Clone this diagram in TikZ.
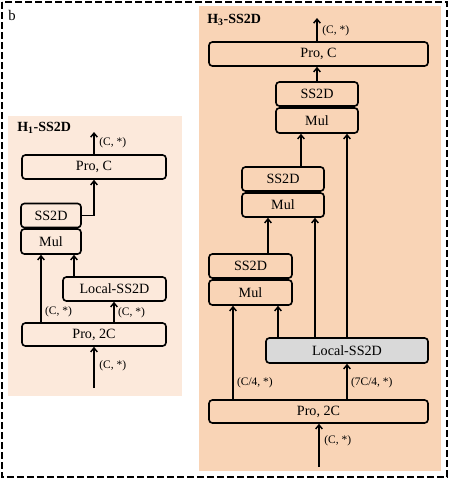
\documentclass[tikz,border=0pt]{standalone}
\usepackage{fontspec}
\setmainfont{Liberation Serif}
\usetikzlibrary{arrows.meta}
\newlength\pxu \setlength\pxu{0.75pt}
\definecolor{lightpeach}{HTML}{FCE9DB}
\definecolor{peach}{HTML}{F9D4B6}
\definecolor{boxgray}{HTML}{D9D9D9}
\tikzset{
    blk/.style={draw, line width=1.2pt, rounded corners=2.5pt, inner sep=0pt,
        font=\fontsize{10.6}{12}\selectfont},
    arr/.style={-{Straight Barb[length=3pt,width=5pt]}, line width=1.1pt},
    lbl/.style={font=\fontsize{8.6}{10}\selectfont, inner sep=1.5pt},
    ttl/.style={font=\fontsize{10.5}{12}\selectfont\bfseries, anchor=west, inner sep=0pt}
}

\begin{document}
\begin{tikzpicture}[x=0.75pt, y=-0.75pt]
        \useasboundingbox (0,0) rectangle (449,479);
        \draw[line width=1.4pt, dash pattern=on 5pt off 2.5pt] (2,2) rectangle (447,477);
        \node[anchor=west, inner sep=0pt, font=\fontsize{11}{13}\selectfont] (lab) at (8,15) {b};

        % H1 panel
        \fill[lightpeach] (8,116) rectangle (182,396);
        \node[ttl] (t1) at (17,128) {H\textsubscript{1}-SS2D};

        \node[blk, minimum width=144\pxu, minimum height=24\pxu] (proC1) at (94,167) {Pro, C};
        \node[blk, minimum width=60\pxu, minimum height=24\pxu] (ss2d1) at (51,215.5) {SS2D};
        \node[blk, minimum width=60\pxu, minimum height=25\pxu] (mul1) at (51,241.5) {Mul};
        \node[blk, minimum width=103\pxu, minimum height=24\pxu] (loc1) at (114.5,289) {Local-SS2D};
        \node[blk, minimum width=144\pxu, minimum height=23\pxu] (pro2c1) at (94,334.5) {Pro, 2C};

        \coordinate (in1) at (94,388);
        \coordinate (out1) at (94,132);
        \coordinate (ca) at (41,0);
        \coordinate (cb) at (74,0);
        \coordinate (cc) at (114,0);

        \draw[arr] (in1) -- (pro2c1.south) node[lbl, pos=0.55, right=2pt] {(C, *)};
        \draw[arr] (pro2c1.north -| ca) -- (mul1.south -| ca) node[lbl, pos=0.15, right=1pt] {(C, *)};
        \draw[arr] (loc1.north -| cb) -- (mul1.south -| cb);
        \draw[arr] (pro2c1.north -| cc) -- (loc1.south -| cc) node[lbl, pos=0.45, right=1pt] {(C, *)};
        \draw[arr] (ss2d1.east) -| (proC1.south);
        \draw[arr] (proC1.north) -- (out1) node[lbl, pos=0.5, right=2pt] {(C, *)};

        % H3 panel
        \fill[peach] (199,6) rectangle (441,471);
        \node[ttl] (t3) at (207,20) {H\textsubscript{3}-SS2D};

        \node[blk, minimum width=219\pxu, minimum height=24\pxu] (proC3) at (318.5,54) {Pro, C};
        \node[blk, minimum width=82\pxu, minimum height=24\pxu] (ss2dA) at (317,94) {SS2D};
        \node[blk, minimum width=82\pxu, minimum height=25\pxu] (mulA) at (317,120.5) {Mul};
        \node[blk, minimum width=82\pxu, minimum height=24\pxu] (ss2dB) at (283,179) {SS2D};
        \node[blk, minimum width=82\pxu, minimum height=24\pxu] (mulB) at (283,205) {Mul};
        \node[blk, minimum width=83\pxu, minimum height=24\pxu] (ss2dC) at (250.5,266) {SS2D};
        \node[blk, minimum width=83\pxu, minimum height=25\pxu] (mulC) at (250.5,292.5) {Mul};
        \node[blk, fill=boxgray, minimum width=162\pxu, minimum height=25\pxu] (loc3) at (347,350.5) {Local-SS2D};
        \node[blk, minimum width=219\pxu, minimum height=23\pxu] (pro2c3) at (318.5,411.5) {Pro, 2C};

        \coordinate (in3) at (319,467);
        \coordinate (out3) at (317,18);
        \coordinate (c1) at (233,0);
        \coordinate (c2) at (268,0);
        \coordinate (c3) at (278,0);
        \coordinate (c4) at (301,0);
        \coordinate (c5) at (315,0);
        \coordinate (c6) at (317,0);
        \coordinate (c7) at (347,0);

        \draw[arr] (in3) -- (in3 |- pro2c3.south) node[lbl, pos=0.6, right=2pt] {(C, *)};
        \draw[arr] (pro2c3.north -| c1) -- (mulC.south -| c1) node[lbl, pos=0.18, right=1pt] {(C/4, *)};
        \draw[arr] (pro2c3.north -| c7) -- (loc3.south -| c7) node[lbl, pos=0.46, right=1pt] {(7C/4, *)};
        \draw[arr] (loc3.north -| c3) -- (mulC.south -| c3);
        \draw[arr] (loc3.north -| c5) -- (mulB.south -| c5);
        \draw[arr] (loc3.north -| c7) -- (mulA.south -| c7);
        \draw[arr] (ss2dC.north -| c2) -- (mulB.south -| c2);
        \draw[arr] (ss2dB.north -| c4) -- (mulA.south -| c4);
        \draw[arr] (ss2dA.north -| c6) -- (proC3.south -| c6);
        \draw[arr] (proC3.north -| c6) -- (out3) node[lbl, pos=0.46, right=2pt] {(C, *)};
\end{tikzpicture}
\end{document}
